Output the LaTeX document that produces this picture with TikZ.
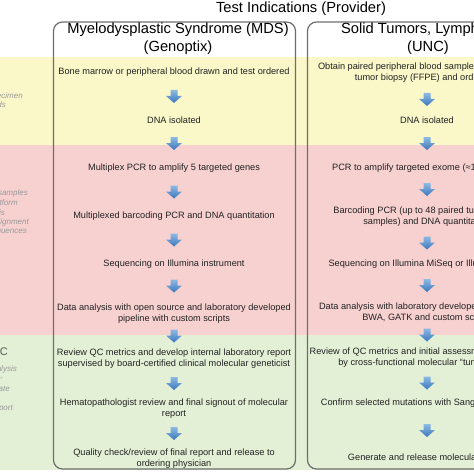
\documentclass[tikz,border=0pt]{standalone}
\usepackage{fontspec}
\setmainfont{Liberation Sans}
\usetikzlibrary{calc}
\definecolor{bandyellow}{HTML}{FAF7C9}
\definecolor{bandpink}{HTML}{F7D1D0}
\definecolor{bandgreen}{HTML}{E3F0D6}
\definecolor{boxgray}{HTML}{6E6E6E}
\definecolor{textdark}{HTML}{222222}
\definecolor{labelgray}{HTML}{9A9A9A}
\definecolor{labeldark}{HTML}{5A5A5A}
\definecolor{arrtop}{HTML}{8DBAE3}
\definecolor{arrbot}{HTML}{3B76BC}
\newcommand\flowarr[2]{\path[arrshade] ($(#1.south)!0.5!(#2.north)$) ++(-3.5,-6.5) -- ++(7,0) -- ++(0,6) -- ++(4.5,0) -- ++(-8,7) -- ++(-8,-7) -- ++(4.5,0) -- cycle;}
\tikzset{
  stepnode/.style={font=\fontsize{9.2}{11}\selectfont, align=center, inner sep=0pt, text=textdark},
  headnode/.style={font=\fontsize{14.7}{18}\selectfont, align=center, inner sep=0pt, text=black},
  sidelabel/.style={font=\fontsize{8}{9.5}\selectfont\itshape, anchor=east, inner sep=0pt, text=labelgray},
  colbox/.style={draw=boxgray, line width=1.2pt, rounded corners=9pt},
  arrshade/.style={top color=arrtop, bottom color=arrbot}
}
\begin{document}
\begin{tikzpicture}[x=1pt,y=-1pt]
\clip (0,0) rectangle (474,474);
% bands
\fill[bandyellow] (0,57) rectangle (474,144.5);
\fill[bandpink] (0,144.5) rectangle (474,334.5);
\fill[bandgreen] (0,334.5) rectangle (474,470);
% boxes
\draw[colbox] (53.5,22) rectangle (295.5,469);
\draw[colbox] (307.5,22) rectangle (547,469);
% titles
\node[headnode] (title) at (301,9) {Test Indications (Provider)};
\node[headnode] (hl) at (178,39) {Myelodysplastic Syndrome (MDS)\\(Genoptix)};
\node[headnode] (hr) at (428,39) {Solid Tumors, Lymphomas\\(UNC)};
% side labels (cut off at left edge)
\node[sidelabel] (s1) at (23,96) {Obtain specimen};
\node[sidelabel] (s2) at (6,105) {nucleic acids};
\node[sidelabel] (s3) at (28,193) {Process samples};
\node[sidelabel] (s4) at (18,203) {on platform};
\node[sidelabel] (s5) at (5,213) {analysis};
\node[sidelabel] (s6) at (29,222) {alignment};
\node[sidelabel] (s7) at (27,232) {sequences};
\node[sidelabel, text=labeldark, font=\fontsize{11}{13}\selectfont] (s8) at (8,353) {QC};
\node[sidelabel] (s9) at (17,369) {analysis};
\node[sidelabel] (s10) at (3,379) {-};
\node[sidelabel] (s11) at (10,389) {validate};
\node[sidelabel] (s12) at (13,409) {report};
% left column
\node[stepnode] (l1) at (174,72) {Bone marrow or peripheral blood drawn and test ordered};
\node[stepnode] (l2) at (174,120) {DNA isolated};
\node[stepnode] (l3) at (174,168) {Multiplex PCR to amplify 5 targeted genes};
\node[stepnode] (l4) at (174,216) {Multiplexed barcoding PCR and DNA quantitation};
\node[stepnode] (l5) at (174,264) {Sequencing on Illumina instrument};
\node[stepnode] (l6) at (174,313.5) {Data analysis with open source and laboratory developed\\pipeline with custom scripts};
\node[stepnode] (l7) at (174,358.5) {Review QC metrics and develop internal laboratory report\\supervised by board-certified clinical molecular geneticist};
\node[stepnode] (l8) at (174,408.5) {Hematopathologist review and final signout of molecular\\report};
\node[stepnode] (l9) at (174,458.5) {Quality check/review of final report and release to\\ordering physician};
% right column
\node[stepnode] (r1) at (427,72.5) {Obtain paired peripheral blood sample (germline) and\\tumor biopsy (FFPE) and order test};
\node[stepnode] (r2) at (427,120) {DNA isolated};
\node[stepnode] (r3) at (427,168) {PCR to amplify targeted exome (≈1200 genes)};
\node[stepnode] (r4) at (427,216.5) {Barcoding PCR (up to 48 paired tumor/normal\\samples) and DNA quantitation};
\node[stepnode] (r5) at (427,264) {Sequencing on Illumina MiSeq or Illumina HiSeq};
\node[stepnode] (r6) at (427,312.5) {Data analysis with laboratory developed pipeline with\\BWA, GATK and custom scripts};
\node[stepnode] (r7) at (427,357.5) {Review of QC metrics and initial assessment of mutations\\by cross-functional molecular “tumor board”};
\node[stepnode] (r8) at (427,403) {Confirm selected mutations with Sanger sequencing};
\node[stepnode] (r9) at (427,458) {Generate and release molecular report};
% arrows
\flowarr{l1}{l2}\flowarr{l2}{l3}\flowarr{l3}{l4}\flowarr{l4}{l5}
\flowarr{l5}{l6}\flowarr{l6}{l7}\flowarr{l7}{l8}\flowarr{l8}{l9}
\flowarr{r1}{r2}\flowarr{r2}{r3}\flowarr{r3}{r4}\flowarr{r4}{r5}
\flowarr{r5}{r6}\flowarr{r6}{r7}\flowarr{r7}{r8}\flowarr{r8}{r9}
\end{tikzpicture}
\end{document}
